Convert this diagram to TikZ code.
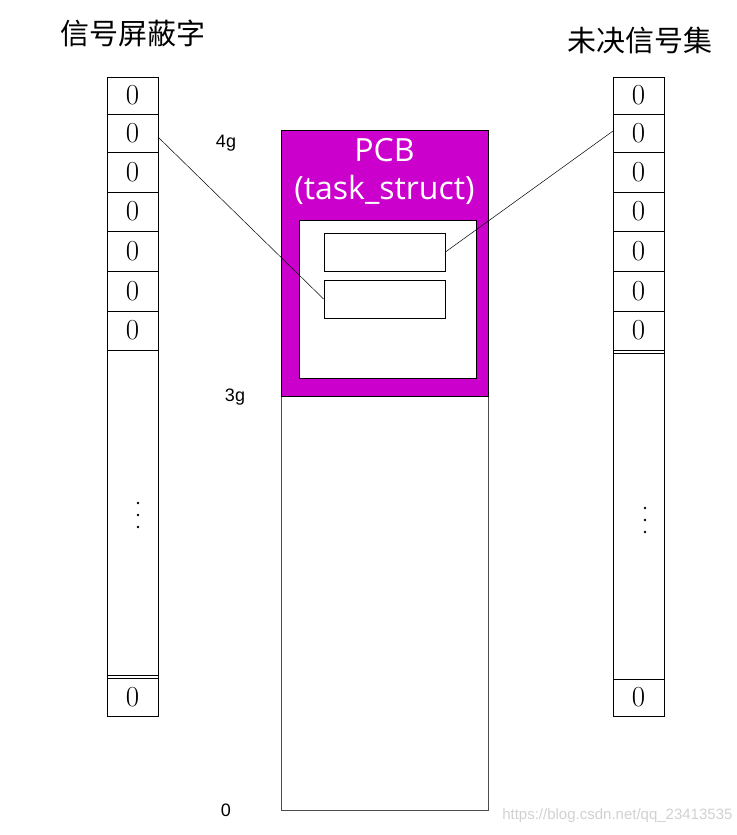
\documentclass[tikz,border=0pt]{standalone}
\usepackage{fontspec}
\newfontfamily\cjk{Noto Sans CJK SC}
\newfontfamily\osans{Open Sans}
\newfontfamily\lsans{Liberation Sans}
\definecolor{pcb}{RGB}{204,0,204}
\begin{document}
\begin{tikzpicture}[x=1pt,y=-1pt,
  cell/.style={draw=black,line width=0.8pt,fill=white},
  zero/.style={font=\fontsize{29}{29}\selectfont,inner sep=0},
  lab/.style={font=\lsans\fontsize{18}{18}\selectfont},
  title/.style={font=\cjk\fontsize{29}{29}\selectfont},
  dot/.style={fill=black}]
\useasboundingbox (0,0) rectangle (736,835);
% left column
\foreach \a/\b [count=\i] in {77/114,114/152,152/192,192/231,231/271,271/311,311/350}{
  \draw[cell] (107,\a) rectangle (158,\b);
  \node[zero] (L\i) at (132.5,{(\a+\b)/2}) {0};
}
\draw[cell] (107,350) rectangle (158,675);
\draw[cell] (107,675) rectangle (158,678);
\draw[cell] (107,678) rectangle (158,716);
\node[zero] (L8) at (132.5,697) {0};
\foreach \y in {503,515,527} \fill[dot] (138,\y) circle (1.3);
% right column
\foreach \a/\b [count=\i] in {77/114,114/152,152/192,192/231,231/271,271/311,311/350}{
  \draw[cell] (613,\a) rectangle (664,\b);
  \node[zero] (R\i) at (638.5,{(\a+\b)/2}) {0};
}
\draw[cell] (613,350) rectangle (664,353);
\draw[cell] (613,353) rectangle (664,679);
\draw[cell] (613,679) rectangle (664,716);
\node[zero] (R8) at (638.5,697) {0};
\foreach \y in {508,520,532} \fill[dot] (645,\y) circle (1.3);
% titles
\node[title] (t1) at (133,33) {信号屏蔽字};
\node[title] (t2) at (640,40) {未决信号集};
% memory
\draw[line width=0.8pt,draw=black!70] (281,396) rectangle (488,810);
\draw[line width=0.8pt,fill=pcb] (281,130) rectangle (488,396);
\draw[cell] (299,220) rectangle (476,378);
\node[font=\osans\fontsize{32}{38}\selectfont,text=white,align=center] (pcb) at (384.5,171) {PCB\\(task\_struct)};
\node[draw=black,line width=0.8pt,minimum width=121pt,minimum height=38pt,inner sep=0] (b1) at (384.5,252) {};
\node[draw=black,line width=0.8pt,minimum width=121pt,minimum height=38pt,inner sep=0] (b2) at (384.5,299) {};
% labels
\node[lab] (g4) at (226,143) {4g};
\node[lab] (g3) at (235,397) {3g};
\node[lab] (g0) at (226,810) {0};
\node[font=\lsans\fontsize{15}{15}\selectfont,text=black!18,anchor=east] (wm) at (736,816) {https://blog.csdn.net/qq\_23413535};
% connectors
\coordinate (lp) at (158,137);
\coordinate (rp) at (613,131);
\draw[line width=0.5pt] (lp) -- (b2.west);
\draw[line width=0.5pt] (b1.east) -- (rp);
\end{tikzpicture}
\end{document}
